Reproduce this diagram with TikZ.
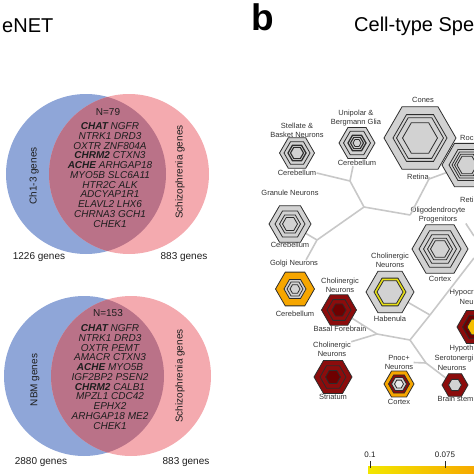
\documentclass[tikz,border=0pt]{standalone}
\usepackage{fontspec}
\setmainfont{Liberation Sans}
\usetikzlibrary{shapes.geometric}
\definecolor{vblue}{RGB}{143,166,216}
\definecolor{vpink}{RGB}{244,170,175}
\definecolor{vmix}{RGB}{186,114,136}
\definecolor{gtext}{RGB}{30,30,30}
\definecolor{hgrey}{RGB}{210,210,210}
\definecolor{hlight}{RGB}{235,235,235}
\definecolor{hline}{RGB}{45,45,45}
\definecolor{hred}{RGB}{140,12,12}
\definecolor{hdred}{RGB}{110,0,0}
\definecolor{horange}{RGB}{246,166,0}
\definecolor{hyellow}{RGB}{232,224,20}
\definecolor{hamber}{RGB}{246,190,0}
\definecolor{treec}{RGB}{200,200,200}
\definecolor{lbl}{RGB}{50,50,50}
\definecolor{cbA}{RGB}{242,230,0}
\definecolor{cbB}{RGB}{246,170,0}
\tikzset{
  hx/.style={regular polygon, regular polygon sides=6, inner sep=0pt, outer sep=0pt, draw=hline, line width=0.8pt},
  lab/.style={font=\fontsize{7.5}{9}\selectfont, text=lbl, inner sep=0.3pt, align=center},
  tr/.style={draw=treec, line width=1.6pt},
  gene/.style={font=\fontsize{10}{9.75}\selectfont\itshape, text=gtext, align=center, inner sep=0pt},
  vtxt/.style={font=\fontsize{10}{12}\selectfont, text=gtext, inner sep=0pt},
}
\newcommand{\hx}[4]{\node[hx, minimum size=#3pt, fill=#4] (#1) at (#2) {};}
\newcommand{\hxw}[5]{\node[hx, minimum size=#3pt, fill=#4, line width=#5pt] (#1) at (#2) {};}
\begin{document}
\begin{tikzpicture}[x=1pt,y=-1pt]
\useasboundingbox (0,0) rectangle (474,474);
% titles
\node[anchor=base west, font=\fontsize{20}{24}\selectfont, inner sep=0pt] (tA) at (2,32) {eNET};
\node[anchor=base west, font=\fontsize{37}{40}\selectfont\bfseries, inner sep=0pt] (tB) at (251,30) {b};
\node[anchor=base west, font=\fontsize{20}{24}\selectfont, inner sep=0pt] (tC) at (354,31) {Cell-type Spe};

% ---------- Venn top ----------
\fill[vblue] (86,174) circle[radius=80pt];
\fill[vpink] (129,174) circle[radius=80pt];
\begin{scope}
  \clip (86,174) circle[radius=80pt];
  \fill[vmix] (129,174) circle[radius=80pt];
\end{scope}
\node[vtxt] (n79) at (108,112) {N=79};
\node[gene] (g1) at (110,175) {{\bfseries CHAT} NGFR\\NTRK1 DRD3\\OXTR ZNF804A\\{\bfseries CHRM2} CTXN3\\{\bfseries ACHE} ARHGAP18\\MYO5B SLC6A11\\HTR2C ALK\\ADCYAP1R1\\ELAVL2 LHX6\\CHRNA3 GCH1\\CHEK1};
\node[vtxt, rotate=90] (c13) at (34,176) {Ch1-3 genes};
\node[vtxt, rotate=90] (sz1) at (180,172) {Schizophrenia genes};
\node[vtxt] (n1226) at (39,257) {1226 genes};
\node[vtxt] (n883a) at (184,257) {883 genes};

% ---------- Venn bottom ----------
\fill[vblue] (84,376) circle[radius=80pt];
\fill[vpink] (131,376) circle[radius=80pt];
\begin{scope}
  \clip (84,376) circle[radius=80pt];
  \fill[vmix] (131,376) circle[radius=80pt];
\end{scope}
\node[vtxt] (n153) at (108,313) {N=153};
\node[gene] (g2) at (110,377) {{\bfseries CHAT} NGFR\\NTRK1 DRD3\\OXTR PEMT\\AMACR CTXN3\\{\bfseries ACHE} MYO5B\\IGF2BP2 PSEN2\\{\bfseries CHRM2} CALB1\\MPZL1 CDC42\\EPHX2\\ARHGAP18 ME2\\CHEK1};
\node[vtxt, rotate=90] (nbm) at (35,380) {NBM genes};
\node[vtxt, rotate=90] (sz2) at (180,376) {Schizophrenia genes};
\node[vtxt] (n2880) at (41,462) {2880 genes};
\node[vtxt] (n883b) at (186,462) {883 genes};

% ---------- labels (right panel) ----------
\node[lab] (L1a) at (297,130) {Stellate \&\\Basket Neurons};
\node[lab] (L1b) at (297,173) {Cerebellum};
\node[lab] (L2a) at (356,118) {Unipolar \&\\Bergmann Glia};
\node[lab] (L2b) at (357,163) {Cerebellum};
\node[lab] (L3a) at (423,100) {Cones};
\node[lab] (L3b) at (418,177) {Retina};
\node[lab, anchor=east] (L4a) at (474,138) {Roc};
\node[lab, anchor=east] (L4b) at (474,200) {Reti};
\node[lab] (L5a) at (290,193) {Granule Neurons};
\node[lab] (L5b) at (290,245) {Cerebellum};
\node[lab] (L6a) at (438,215) {Oligodendrocyte\\Progenitors};
\node[lab] (L6b) at (440,279) {Cortex};
\node[lab] (L7a) at (390,260.5) {Cholinergic\\Neurons};
\node[lab] (L7b) at (390,319) {Habenula};
\node[lab] (L8a) at (294,264) {Golgi Neurons};
\node[lab] (L8b) at (295,314) {Cerebellum};
\node[lab] (L9a) at (340,285.5) {Cholinergic\\Neurons};
\node[lab] (L9b) at (340,329) {Basal Forebrain};
\node[lab] (L10a) at (332,349.5) {Cholinergic\\Neurons};
\node[lab] (L10b) at (333,397) {Striatum};
\node[lab] (L11a) at (399,362.5) {Pnoc+\\Neurons};
\node[lab] (L11b) at (399,402) {Cortex};
\node[lab, anchor=east] (L12a) at (474,359) {Serotonergi};
\node[lab] (L12c) at (452,368) {Neurons};
\node[lab, anchor=east] (L12b) at (474,399) {Brain stem};
\node[lab, anchor=east] (L13a) at (474,293) {Hypocr};
\node[lab, anchor=east] (L13c) at (474,302) {Neu};
\node[lab, anchor=east] (L13b) at (474,349) {Hypoth};

% ---------- tree junctions ----------
\coordinate (j1) at (350,181);
\coordinate (j2) at (364,207);
\coordinate (j3) at (L6a.west);
\coordinate (j4) at (429,179);
\coordinate (j5) at (317,240);
\coordinate (j6) at (377,334);
\coordinate (j7) at (410,340);
\coordinate (j8) at (430,315);
\coordinate (j9) at (426,363);
\coordinate (e1) at (474,258);
\coordinate (e2) at (474,236);

% ---------- hexagon centres ----------
\path (297,153) coordinate (c1) (357,143) coordinate (c2) (420,138) coordinate (c3)
      (467,165) coordinate (c4) (290,224) coordinate (c5) (440,249) coordinate (c6)
      (390,292) coordinate (c7) (295,289) coordinate (c8) (339,310) coordinate (c9)
      (333,377) coordinate (c10) (399,384) coordinate (c11) (455,385) coordinate (c12)
      (476,327) coordinate (c13);

% connectors
\draw[tr] (L1b.east) -- (j1);
\draw[tr] ([xshift=-4pt]L2b.south) -- (j1);
\draw[tr] (j1) -- (j2);
\draw[tr] (j2) -- (j3);
\draw[tr] (j3) -- (j4);
\draw[tr] (L3b.east) -- (j4);
\draw[tr] (j4) -- (c4);
\draw[tr] (j2) -- (j5);
\draw[tr] (c5) -- (j5);
\draw[tr] (j5) -- ([xshift=12pt]L8a.north);
\draw[tr] (L6a.south east) -- (e2);
\draw[tr] (c9) -- (j6);
\draw[tr] (L10a.north east) -- (j6);
\draw[tr] (j6) -- (j7);
\draw[tr] (j7) -- (j8);
\draw[tr] (j8) -- (e1);
\draw[tr] (c7) -- (j8);
\draw[tr] (j7) -- (j9);
\draw[tr] (j9) -- (c12);
\draw[tr] (j9) -- (L11a.east);

% Stellate
\hx{H1}{c1}{35}{hgrey}
\hx{H1b}{c1}{26}{hgrey}
\hxw{H1c}{c1}{18}{hgrey}{1.3}
\hxw{H1d}{c1}{13}{hgrey}{1.1}
% Unipolar
\hx{H2}{c2}{36}{hgrey}
\hx{H2b}{c2}{27}{hgrey}
\hxw{H2c}{c2}{18}{hgrey}{1.3}
\hxw{H2d}{c2}{13}{hgrey}{1.1}
\hx{H2e}{c2}{8}{hgrey}
% Cones
\hx{H3}{c3}{72}{hgrey}
\hx{H3b}{c3}{54}{hgrey}
\hx{H3c}{c3}{47}{hgrey}
\hx{H3d}{c3}{35}{hgrey}
% Rods
\hx{H4}{c4}{50}{hgrey}
\hx{H4b}{c4}{36}{hgrey}
\hx{H4c}{c4}{30}{hgrey}
\hx{H4d}{c4}{25}{hgrey}
\hx{H4e}{c4}{20}{hgrey}
% Granule
\hx{H5}{c5}{42}{hgrey}
\hx{H5b}{c5}{30}{hgrey}
\hx{H5c}{c5}{21}{hgrey}
\hx{H5d}{c5}{15}{hgrey}
% Oligodendrocyte
\hx{H6}{c6}{56}{hgrey}
\hx{H6b}{c6}{42}{hgrey}
\hx{H6c}{c6}{33}{hgrey}
\hx{H6d}{c6}{25}{hgrey}
\hx{H6e}{c6}{19}{hgrey}
% Habenula
\hx{H7}{c7}{48}{hgrey}
\hx{H7b}{c7}{32}{hyellow}
\hx{H7c}{c7}{26}{hgrey}
% Golgi
\hx{H8}{c8}{39}{horange}
\hx{H8b}{c8}{22}{hgrey}
\hx{H8c}{c8}{16}{hgrey}
\hx{H8d}{c8}{10}{hgrey}
% Basal forebrain
\hx{H9}{c9}{35}{hred}
\hx{H9b}{c9}{24}{hred}
\hx{H9c}{c9}{14}{hdred}
% Striatum
\hx{H10}{c10}{38}{hred}
\hx{H10b}{c10}{26}{hred}
\hx{H10c}{c10}{15}{hdred}
% Pnoc cortex
\hx{H11}{c11}{30}{horange}
\hx{H11b}{c11}{21}{hred}
\hx{H11c}{c11}{15}{hgrey}
\hx{H11d}{c11}{9}{hlight}
% Serotonergic
\hx{H12}{c12}{26}{hred}
\hx{H12b}{c12}{13}{hgrey}
% Hypocretin
\hx{H13}{c13}{38}{hred}
\hx{H13b}{c13}{27}{hdred}
\hx{H13c}{c13}{18}{hamber}

% ---------- colour bar ----------
\shade[left color=cbA, right color=cbB] (368,466) rectangle (474,474);
\draw[line width=0.8pt, hline] (370,461) -- (370,468);
\draw[line width=0.8pt, hline] (445,461) -- (445,468);
\node[lab, text=gtext, font=\fontsize{8}{9}\selectfont] (cb1) at (370,455) {0.1};
\node[lab, text=gtext, font=\fontsize{8}{9}\selectfont] (cb2) at (445,455) {0.075};
\end{tikzpicture}
\end{document}
